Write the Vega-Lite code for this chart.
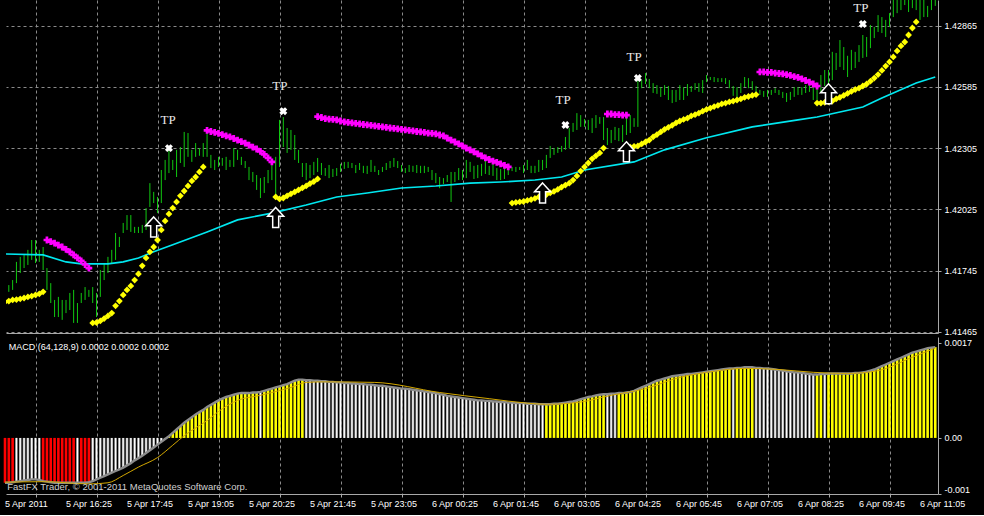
{
"$schema":"https://vega.github.io/schema/vega-lite/v6.json",
"background":"black",
"padding":{"left":0,"top":0,"right":14,"bottom":6},
"autosize":{"type":"pad"},
"config":{"view":{"stroke":null},"concat":{"spacing":0},
"axis":{"labelColor":"white","labelFont":"Liberation Sans","labelFontSize":9,"domainColor":"#a8a8a8","tickColor":"#a8a8a8","gridColor":"#8a8a8a","gridDash":[3,3],"gridOpacity":1,"title":null}},
"resolve":{"scale":{"x":"independent","y":"independent","color":"independent","shape":"independent"},"axis":{"x":"independent","y":"independent"}},
"datasets":{
"bars":[
{"i":0,"h":1.41685,"l":1.4165,"m":-0.0008,"k":"R"},
{"i":1,"h":1.41679,"l":1.41648,"m":-0.0008,"k":"R"},
{"i":2,"h":1.41702,"l":1.41657,"m":-0.00079,"k":"R"},
{"i":3,"h":1.41785,"l":1.41688,"m":-0.00078,"k":"W"},
{"i":4,"h":1.41808,"l":1.41734,"m":-0.00077,"k":"W"},
{"i":5,"h":1.41817,"l":1.41757,"m":-0.00076,"k":"W"},
{"i":6,"h":1.4184,"l":1.41771,"m":-0.00075,"k":"W"},
{"i":7,"h":1.41885,"l":1.41794,"m":-0.00074,"k":"W"},
{"i":8,"h":1.41885,"l":1.4178,"m":-0.00074,"k":"W"},
{"i":9,"h":1.4184,"l":1.41785,"m":-0.00075,"k":"W"},
{"i":10,"h":1.41853,"l":1.41748,"m":-0.00077,"k":"R"},
{"i":11,"h":1.41757,"l":1.41657,"m":-0.00078,"k":"R"},
{"i":12,"h":1.41688,"l":1.41597,"m":-0.00079,"k":"R"},
{"i":13,"h":1.41611,"l":1.41533,"m":-0.0008,"k":"R"},
{"i":14,"h":1.41625,"l":1.41533,"m":-0.0008,"k":"R"},
{"i":15,"h":1.41611,"l":1.4152,"m":-0.0008,"k":"R"},
{"i":16,"h":1.41611,"l":1.41551,"m":-0.0008,"k":"R"},
{"i":17,"h":1.41643,"l":1.41565,"m":-0.0008,"k":"R"},
{"i":18,"h":1.41657,"l":1.41506,"m":-0.0008,"k":"R"},
{"i":19,"h":1.41597,"l":1.41506,"m":-0.0008,"k":"W"},
{"i":20,"h":1.41643,"l":1.41597,"m":-0.0008,"k":"R"},
{"i":21,"h":1.4167,"l":1.41611,"m":-0.0008,"k":"R"},
{"i":22,"h":1.41657,"l":1.41625,"m":-0.00079,"k":"R"},
{"i":23,"h":1.4167,"l":1.41597,"m":-0.00077,"k":"W"},
{"i":24,"h":1.41643,"l":1.41533,"m":-0.00074,"k":"W"},
{"i":25,"h":1.41748,"l":1.41625,"m":-0.00071,"k":"W"},
{"i":26,"h":1.4178,"l":1.41702,"m":-0.00068,"k":"W"},
{"i":27,"h":1.41808,"l":1.41734,"m":-0.00065,"k":"W"},
{"i":28,"h":1.4184,"l":1.4178,"m":-0.00062,"k":"W"},
{"i":29,"h":1.41917,"l":1.41794,"m":-0.00059,"k":"W"},
{"i":30,"h":1.41899,"l":1.41853,"m":-0.00056,"k":"W"},
{"i":31,"h":1.41963,"l":1.41917,"m":-0.00053,"k":"W"},
{"i":32,"h":1.41999,"l":1.41931,"m":-0.00049,"k":"W"},
{"i":33,"h":1.41999,"l":1.41922,"m":-0.00045,"k":"W"},
{"i":34,"h":1.41945,"l":1.41917,"m":-0.0004,"k":"W"},
{"i":35,"h":1.41945,"l":1.41917,"m":-0.00036,"k":"W"},
{"i":36,"h":1.41954,"l":1.41917,"m":-0.00032,"k":"W"},
{"i":37,"h":1.42031,"l":1.41931,"m":-0.00027,"k":"W"},
{"i":38,"h":1.42145,"l":1.42036,"m":-0.00022,"k":"W"},
{"i":39,"h":1.42105,"l":1.42054,"m":-0.00017,"k":"W"},
{"i":40,"h":1.42082,"l":1.42008,"m":-0.00012,"k":"W"},
{"i":41,"h":1.42205,"l":1.42054,"m":-0.00007,"k":"W"},
{"i":42,"h":1.42251,"l":1.42159,"m":-0.00002,"k":"W"},
{"i":43,"h":1.4231,"l":1.42191,"m":0.00003,"k":"Y"},
{"i":44,"h":1.42251,"l":1.42205,"m":0.00009,"k":"Y"},
{"i":45,"h":1.42297,"l":1.42173,"m":0.00015,"k":"Y"},
{"i":46,"h":1.4231,"l":1.42237,"m":0.00021,"k":"Y"},
{"i":47,"h":1.42379,"l":1.42219,"m":0.00027,"k":"Y"},
{"i":48,"h":1.42374,"l":1.42265,"m":0.00032,"k":"Y"},
{"i":49,"h":1.42297,"l":1.42242,"m":0.00037,"k":"Y"},
{"i":50,"h":1.42328,"l":1.42265,"m":0.00042,"k":"Y"},
{"i":51,"h":1.42305,"l":1.4227,"m":0.00046,"k":"Y"},
{"i":52,"h":1.42328,"l":1.42265,"m":0.0005,"k":"Y"},
{"i":53,"h":1.42388,"l":1.42265,"m":0.00055,"k":"Y"},
{"i":54,"h":1.42274,"l":1.42214,"m":0.00059,"k":"Y"},
{"i":55,"h":1.42251,"l":1.42205,"m":0.00063,"k":"Y"},
{"i":56,"h":1.42265,"l":1.42219,"m":0.00067,"k":"Y"},
{"i":57,"h":1.4226,"l":1.42224,"m":0.0007,"k":"Y"},
{"i":58,"h":1.42265,"l":1.42205,"m":0.00073,"k":"Y"},
{"i":59,"h":1.42251,"l":1.42219,"m":0.00075,"k":"Y"},
{"i":60,"h":1.42305,"l":1.42219,"m":0.00077,"k":"Y"},
{"i":61,"h":1.42297,"l":1.42251,"m":0.00079,"k":"Y"},
{"i":62,"h":1.42265,"l":1.42228,"m":0.0008,"k":"Y"},
{"i":63,"h":1.42246,"l":1.42214,"m":0.0008,"k":"Y"},
{"i":64,"h":1.42219,"l":1.42159,"m":0.0008,"k":"Y"},
{"i":65,"h":1.42196,"l":1.4215,"m":0.00081,"k":"Y"},
{"i":66,"h":1.42182,"l":1.42114,"m":0.00081,"k":"Y"},
{"i":67,"h":1.42168,"l":1.42077,"m":0.00082,"k":"W"},
{"i":68,"h":1.42173,"l":1.421,"m":0.00084,"k":"Y"},
{"i":69,"h":1.42205,"l":1.42145,"m":0.00086,"k":"Y"},
{"i":70,"h":1.42228,"l":1.42159,"m":0.00088,"k":"Y"},
{"i":71,"h":1.42265,"l":1.42091,"m":0.0009,"k":"Y"},
{"i":72,"h":1.42434,"l":1.42219,"m":0.00092,"k":"Y"},
{"i":73,"h":1.42447,"l":1.4231,"m":0.00094,"k":"Y"},
{"i":74,"h":1.42397,"l":1.42283,"m":0.00096,"k":"Y"},
{"i":75,"h":1.42388,"l":1.42297,"m":0.00099,"k":"Y"},
{"i":76,"h":1.42365,"l":1.42251,"m":0.00102,"k":"Y"},
{"i":77,"h":1.42297,"l":1.42237,"m":0.00104,"k":"Y"},
{"i":78,"h":1.42237,"l":1.42173,"m":0.00104,"k":"Y"},
{"i":79,"h":1.42237,"l":1.42159,"m":0.00103,"k":"W"},
{"i":80,"h":1.42228,"l":1.42168,"m":0.00103,"k":"W"},
{"i":81,"h":1.42242,"l":1.42182,"m":0.00102,"k":"W"},
{"i":82,"h":1.4226,"l":1.42196,"m":0.00102,"k":"W"},
{"i":83,"h":1.42237,"l":1.42182,"m":0.00101,"k":"W"},
{"i":84,"h":1.42214,"l":1.42178,"m":0.00101,"k":"W"},
{"i":85,"h":1.42228,"l":1.42168,"m":0.001,"k":"W"},
{"i":86,"h":1.4221,"l":1.42173,"m":0.001,"k":"W"},
{"i":87,"h":1.42214,"l":1.42178,"m":0.00099,"k":"W"},
{"i":88,"h":1.42233,"l":1.42196,"m":0.00099,"k":"W"},
{"i":89,"h":1.42242,"l":1.4221,"m":0.00098,"k":"W"},
{"i":90,"h":1.42242,"l":1.42214,"m":0.00098,"k":"W"},
{"i":91,"h":1.42237,"l":1.42214,"m":0.00097,"k":"W"},
{"i":92,"h":1.42228,"l":1.42191,"m":0.00097,"k":"W"},
{"i":93,"h":1.42237,"l":1.42205,"m":0.00096,"k":"W"},
{"i":94,"h":1.42224,"l":1.42191,"m":0.00096,"k":"W"},
{"i":95,"h":1.42224,"l":1.42187,"m":0.00095,"k":"W"},
{"i":96,"h":1.42251,"l":1.42196,"m":0.00095,"k":"W"},
{"i":97,"h":1.42224,"l":1.42196,"m":0.00094,"k":"W"},
{"i":98,"h":1.42205,"l":1.42182,"m":0.00093,"k":"W"},
{"i":99,"h":1.42219,"l":1.42196,"m":0.00093,"k":"W"},
{"i":100,"h":1.42237,"l":1.42205,"m":0.00092,"k":"W"},
{"i":101,"h":1.42246,"l":1.42214,"m":0.00091,"k":"W"},
{"i":102,"h":1.4226,"l":1.42219,"m":0.0009,"k":"W"},
{"i":103,"h":1.42246,"l":1.42214,"m":0.00089,"k":"W"},
{"i":104,"h":1.42228,"l":1.42196,"m":0.00088,"k":"W"},
{"i":105,"h":1.42214,"l":1.42191,"m":0.00088,"k":"W"},
{"i":106,"h":1.42228,"l":1.42196,"m":0.00087,"k":"W"},
{"i":107,"h":1.42224,"l":1.42196,"m":0.00086,"k":"W"},
{"i":108,"h":1.42228,"l":1.42191,"m":0.00085,"k":"W"},
{"i":109,"h":1.42224,"l":1.42191,"m":0.00084,"k":"W"},
{"i":110,"h":1.42224,"l":1.42191,"m":0.00083,"k":"W"},
{"i":111,"h":1.42219,"l":1.42196,"m":0.00082,"k":"W"},
{"i":112,"h":1.42205,"l":1.42159,"m":0.00081,"k":"W"},
{"i":113,"h":1.42191,"l":1.42145,"m":0.0008,"k":"W"},
{"i":114,"h":1.42173,"l":1.42122,"m":0.00078,"k":"W"},
{"i":115,"h":1.42168,"l":1.42141,"m":0.00077,"k":"W"},
{"i":116,"h":1.42182,"l":1.4215,"m":0.00075,"k":"W"},
{"i":117,"h":1.42196,"l":1.42059,"m":0.00074,"k":"W"},
{"i":118,"h":1.42196,"l":1.4215,"m":0.00073,"k":"W"},
{"i":119,"h":1.42214,"l":1.42159,"m":0.00072,"k":"W"},
{"i":120,"h":1.42205,"l":1.42159,"m":0.00071,"k":"W"},
{"i":121,"h":1.42251,"l":1.42168,"m":0.0007,"k":"W"},
{"i":122,"h":1.42242,"l":1.42196,"m":0.00069,"k":"W"},
{"i":123,"h":1.42224,"l":1.42164,"m":0.00068,"k":"W"},
{"i":124,"h":1.42228,"l":1.42168,"m":0.00067,"k":"W"},
{"i":125,"h":1.42233,"l":1.42178,"m":0.00067,"k":"W"},
{"i":126,"h":1.42251,"l":1.42187,"m":0.00066,"k":"W"},
{"i":127,"h":1.42224,"l":1.42182,"m":0.00066,"k":"W"},
{"i":128,"h":1.42233,"l":1.42178,"m":0.00065,"k":"W"},
{"i":129,"h":1.42214,"l":1.42159,"m":0.00065,"k":"W"},
{"i":130,"h":1.4221,"l":1.42159,"m":0.00064,"k":"W"},
{"i":131,"h":1.42219,"l":1.42164,"m":0.00064,"k":"W"},
{"i":132,"h":1.42219,"l":1.42182,"m":0.00063,"k":"W"},
{"i":133,"h":1.42219,"l":1.422,"m":0.00063,"k":"W"},
{"i":134,"h":1.42219,"l":1.42196,"m":0.00062,"k":"W"},
{"i":135,"h":1.42219,"l":1.42205,"m":0.00062,"k":"W"},
{"i":136,"h":1.42228,"l":1.42191,"m":0.00062,"k":"W"},
{"i":137,"h":1.42251,"l":1.42205,"m":0.00061,"k":"W"},
{"i":138,"h":1.42224,"l":1.42191,"m":0.00061,"k":"W"},
{"i":139,"h":1.42224,"l":1.42191,"m":0.00061,"k":"W"},
{"i":140,"h":1.42251,"l":1.42196,"m":0.0006,"k":"W"},
{"i":141,"h":1.42251,"l":1.42205,"m":0.0006,"k":"W"},
{"i":142,"h":1.42274,"l":1.42214,"m":0.0006,"k":"Y"},
{"i":143,"h":1.42315,"l":1.4226,"m":0.0006,"k":"Y"},
{"i":144,"h":1.42305,"l":1.42274,"m":0.00061,"k":"Y"},
{"i":145,"h":1.4231,"l":1.42283,"m":0.00061,"k":"Y"},
{"i":146,"h":1.42315,"l":1.42288,"m":0.00062,"k":"Y"},
{"i":147,"h":1.42356,"l":1.42297,"m":0.00063,"k":"Y"},
{"i":148,"h":1.42397,"l":1.42305,"m":0.00064,"k":"Y"},
{"i":149,"h":1.4242,"l":1.42379,"m":0.00065,"k":"Y"},
{"i":150,"h":1.42465,"l":1.42388,"m":0.00067,"k":"Y"},
{"i":151,"h":1.42456,"l":1.42402,"m":0.00069,"k":"Y"},
{"i":152,"h":1.42438,"l":1.42402,"m":0.00071,"k":"Y"},
{"i":153,"h":1.42434,"l":1.42388,"m":0.00073,"k":"Y"},
{"i":154,"h":1.42442,"l":1.42374,"m":0.00074,"k":"Y"},
{"i":155,"h":1.42456,"l":1.42397,"m":0.00076,"k":"Y"},
{"i":156,"h":1.42447,"l":1.42416,"m":0.00077,"k":"Y"},
{"i":157,"h":1.42447,"l":1.42342,"m":0.00078,"k":"Y"},
{"i":158,"h":1.42397,"l":1.42319,"m":0.00078,"k":"W"},
{"i":159,"h":1.42388,"l":1.42328,"m":0.00079,"k":"W"},
{"i":160,"h":1.42402,"l":1.42342,"m":0.00079,"k":"W"},
{"i":161,"h":1.42397,"l":1.42337,"m":0.0008,"k":"Y"},
{"i":162,"h":1.42411,"l":1.42333,"m":0.0008,"k":"Y"},
{"i":163,"h":1.42465,"l":1.42365,"m":0.00081,"k":"Y"},
{"i":164,"h":1.42456,"l":1.42374,"m":0.00082,"k":"Y"},
{"i":165,"h":1.42442,"l":1.42402,"m":0.00084,"k":"Y"},
{"i":166,"h":1.42625,"l":1.42402,"m":0.00087,"k":"Y"},
{"i":167,"h":1.42616,"l":1.42579,"m":0.0009,"k":"Y"},
{"i":168,"h":1.42648,"l":1.42598,"m":0.00093,"k":"Y"},
{"i":169,"h":1.42621,"l":1.42579,"m":0.00096,"k":"Y"},
{"i":170,"h":1.42602,"l":1.42557,"m":0.00099,"k":"Y"},
{"i":171,"h":1.42593,"l":1.42553,"m":0.00102,"k":"Y"},
{"i":172,"h":1.42584,"l":1.42539,"m":0.00104,"k":"Y"},
{"i":173,"h":1.42593,"l":1.42548,"m":0.00106,"k":"Y"},
{"i":174,"h":1.42589,"l":1.42525,"m":0.00108,"k":"Y"},
{"i":175,"h":1.42571,"l":1.42511,"m":0.0011,"k":"Y"},
{"i":176,"h":1.42571,"l":1.42516,"m":0.00111,"k":"Y"},
{"i":177,"h":1.42593,"l":1.42525,"m":0.00112,"k":"Y"},
{"i":178,"h":1.42584,"l":1.42525,"m":0.00113,"k":"Y"},
{"i":179,"h":1.42598,"l":1.42544,"m":0.00114,"k":"Y"},
{"i":180,"h":1.42589,"l":1.42562,"m":0.00114,"k":"Y"},
{"i":181,"h":1.42602,"l":1.42571,"m":0.00115,"k":"Y"},
{"i":182,"h":1.42602,"l":1.42562,"m":0.00116,"k":"Y"},
{"i":183,"h":1.42616,"l":1.42557,"m":0.00117,"k":"Y"},
{"i":184,"h":1.42639,"l":1.42607,"m":0.00118,"k":"Y"},
{"i":185,"h":1.4263,"l":1.42616,"m":0.00119,"k":"Y"},
{"i":186,"h":1.4263,"l":1.42607,"m":0.0012,"k":"Y"},
{"i":187,"h":1.42625,"l":1.42607,"m":0.00121,"k":"Y"},
{"i":188,"h":1.42625,"l":1.42607,"m":0.00122,"k":"Y"},
{"i":189,"h":1.42625,"l":1.42598,"m":0.00123,"k":"Y"},
{"i":190,"h":1.42616,"l":1.42579,"m":0.00124,"k":"Y"},
{"i":191,"h":1.42589,"l":1.42544,"m":0.00124,"k":"W"},
{"i":192,"h":1.42584,"l":1.42539,"m":0.00125,"k":"Y"},
{"i":193,"h":1.42602,"l":1.42557,"m":0.00125,"k":"Y"},
{"i":194,"h":1.4263,"l":1.42584,"m":0.00126,"k":"Y"},
{"i":195,"h":1.42625,"l":1.42579,"m":0.00126,"k":"Y"},
{"i":196,"h":1.42611,"l":1.42571,"m":0.00126,"k":"Y"},
{"i":197,"h":1.42589,"l":1.42557,"m":0.00125,"k":"W"},
{"i":198,"h":1.42571,"l":1.42548,"m":0.00125,"k":"W"},
{"i":199,"h":1.42566,"l":1.42539,"m":0.00124,"k":"W"},
{"i":200,"h":1.42571,"l":1.42539,"m":0.00124,"k":"W"},
{"i":201,"h":1.42571,"l":1.42548,"m":0.00123,"k":"W"},
{"i":202,"h":1.42579,"l":1.42557,"m":0.00122,"k":"W"},
{"i":203,"h":1.42571,"l":1.42548,"m":0.00121,"k":"W"},
{"i":204,"h":1.42562,"l":1.42534,"m":0.0012,"k":"W"},
{"i":205,"h":1.42557,"l":1.42516,"m":0.00119,"k":"W"},
{"i":206,"h":1.42562,"l":1.42525,"m":0.00118,"k":"W"},
{"i":207,"h":1.42584,"l":1.42539,"m":0.00117,"k":"W"},
{"i":208,"h":1.42584,"l":1.42548,"m":0.00117,"k":"W"},
{"i":209,"h":1.42584,"l":1.42548,"m":0.00116,"k":"W"},
{"i":210,"h":1.42593,"l":1.42557,"m":0.00115,"k":"W"},
{"i":211,"h":1.42602,"l":1.42562,"m":0.00114,"k":"W"},
{"i":212,"h":1.42584,"l":1.42525,"m":0.00113,"k":"W"},
{"i":213,"h":1.42593,"l":1.42525,"m":0.00113,"k":"Y"},
{"i":214,"h":1.42639,"l":1.42557,"m":0.00114,"k":"Y"},
{"i":215,"h":1.42662,"l":1.42589,"m":0.00114,"k":"W"},
{"i":216,"h":1.42662,"l":1.42557,"m":0.00115,"k":"Y"},
{"i":217,"h":1.42745,"l":1.42616,"m":0.00115,"k":"Y"},
{"i":218,"h":1.4274,"l":1.42662,"m":0.00115,"k":"Y"},
{"i":219,"h":1.42799,"l":1.42676,"m":0.00115,"k":"Y"},
{"i":220,"h":1.42767,"l":1.42662,"m":0.00115,"k":"Y"},
{"i":221,"h":1.42727,"l":1.4263,"m":0.00115,"k":"Y"},
{"i":222,"h":1.42754,"l":1.42662,"m":0.00115,"k":"Y"},
{"i":223,"h":1.42745,"l":1.42671,"m":0.00116,"k":"Y"},
{"i":224,"h":1.42776,"l":1.42699,"m":0.00116,"k":"Y"},
{"i":225,"h":1.42822,"l":1.42717,"m":0.00117,"k":"Y"},
{"i":226,"h":1.42813,"l":1.42722,"m":0.00118,"k":"Y"},
{"i":227,"h":1.42868,"l":1.42762,"m":0.0012,"k":"Y"},
{"i":228,"h":1.42859,"l":1.42808,"m":0.00122,"k":"Y"},
{"i":229,"h":1.42913,"l":1.42836,"m":0.00125,"k":"Y"},
{"i":230,"h":1.42904,"l":1.42831,"m":0.00128,"k":"Y"},
{"i":231,"h":1.42891,"l":1.42813,"m":0.00131,"k":"Y"},
{"i":232,"h":1.42922,"l":1.42859,"m":0.00134,"k":"Y"},
{"i":233,"h":1.42991,"l":1.42904,"m":0.00137,"k":"Y"},
{"i":234,"h":1.42996,"l":1.42922,"m":0.0014,"k":"Y"},
{"i":235,"h":1.43,"l":1.42936,"m":0.00143,"k":"Y"},
{"i":236,"h":1.43005,"l":1.42959,"m":0.00146,"k":"Y"},
{"i":237,"h":1.42996,"l":1.42927,"m":0.00149,"k":"Y"},
{"i":238,"h":1.43,"l":1.42945,"m":0.00152,"k":"Y"},
{"i":239,"h":1.42996,"l":1.42936,"m":0.00154,"k":"Y"},
{"i":240,"h":1.42991,"l":1.42891,"m":0.00156,"k":"Y"},
{"i":241,"h":1.42991,"l":1.42904,"m":0.00158,"k":"Y"},
{"i":242,"h":1.42955,"l":1.42904,"m":0.0016,"k":"Y"},
{"i":243,"h":1.42991,"l":1.42936,"m":0.00161,"k":"Y"},
{"i":244,"h":1.42996,"l":1.42955,"m":0.00162,"k":"Y"}
],
"trail":[
{"i":0,"p":1.41602,"s":"B"},{"i":1,"p":1.41606,"s":"B"},{"i":2,"p":1.41611,"s":"B"},{"i":3,"p":1.41613,"s":"B"},{"i":4,"p":1.41616,"s":"B"},{"i":5,"p":1.4162,"s":"B"},{"i":6,"p":1.41625,"s":"B"},{"i":7,"p":1.41629,"s":"B"},{"i":8,"p":1.41634,"s":"B"},{"i":9,"p":1.41639,"s":"B"},{"i":10,"p":1.41648,"s":"B"},
{"i":23,"p":1.41506,"s":"B"},{"i":24,"p":1.41508,"s":"B"},{"i":25,"p":1.41515,"s":"B"},{"i":26,"p":1.41526,"s":"B"},{"i":27,"p":1.41538,"s":"B"},{"i":28,"p":1.41551,"s":"B"},{"i":29,"p":1.41584,"s":"B"},{"i":30,"p":1.41606,"s":"B"},{"i":31,"p":1.41634,"s":"B"},{"i":32,"p":1.41657,"s":"B"},{"i":33,"p":1.41675,"s":"B"},{"i":34,"p":1.41702,"s":"B"},{"i":35,"p":1.4173,"s":"B"},{"i":36,"p":1.41767,"s":"B"},{"i":37,"p":1.41803,"s":"B"},{"i":38,"p":1.41831,"s":"B"},{"i":39,"p":1.41853,"s":"B"},{"i":40,"p":1.41885,"s":"B"},{"i":41,"p":1.41931,"s":"B"},{"i":42,"p":1.41972,"s":"B"},{"i":43,"p":1.42004,"s":"B"},{"i":44,"p":1.42031,"s":"B"},{"i":45,"p":1.42059,"s":"B"},{"i":46,"p":1.42087,"s":"B"},{"i":47,"p":1.42109,"s":"B"},{"i":48,"p":1.42132,"s":"B"},{"i":49,"p":1.42155,"s":"B"},{"i":50,"p":1.42173,"s":"B"},{"i":51,"p":1.42196,"s":"B"},{"i":52,"p":1.42219,"s":"B"},
{"i":71,"p":1.42082,"s":"B"},{"i":72,"p":1.42073,"s":"B"},{"i":73,"p":1.42077,"s":"B"},{"i":74,"p":1.42087,"s":"B"},{"i":75,"p":1.42096,"s":"B"},{"i":76,"p":1.42105,"s":"B"},{"i":77,"p":1.42114,"s":"B"},{"i":78,"p":1.42123,"s":"B"},{"i":79,"p":1.42132,"s":"B"},{"i":80,"p":1.42143,"s":"B"},{"i":81,"p":1.42152,"s":"B"},{"i":82,"p":1.42164,"s":"B"},
{"i":133,"p":1.42054,"s":"B"},{"i":134,"p":1.42057,"s":"B"},{"i":135,"p":1.42059,"s":"B"},{"i":136,"p":1.42061,"s":"B"},{"i":137,"p":1.42066,"s":"B"},{"i":138,"p":1.4207,"s":"B"},{"i":139,"p":1.42075,"s":"B"},{"i":140,"p":1.42082,"s":"B"},{"i":141,"p":1.42087,"s":"B"},{"i":142,"p":1.42093,"s":"B"},{"i":143,"p":1.421,"s":"B"},{"i":144,"p":1.42107,"s":"B"},{"i":145,"p":1.42116,"s":"B"},{"i":146,"p":1.42127,"s":"B"},{"i":147,"p":1.42136,"s":"B"},{"i":148,"p":1.42145,"s":"B"},{"i":149,"p":1.42159,"s":"B"},{"i":150,"p":1.42178,"s":"B"},{"i":151,"p":1.422,"s":"B"},{"i":152,"p":1.42219,"s":"B"},{"i":153,"p":1.42237,"s":"B"},{"i":154,"p":1.42256,"s":"B"},{"i":155,"p":1.4227,"s":"B"},{"i":156,"p":1.42283,"s":"B"},{"i":157,"p":1.42305,"s":"B"},
{"i":163,"p":1.4231,"s":"B"},{"i":164,"p":1.4231,"s":"B"},{"i":165,"p":1.42313,"s":"B"},{"i":166,"p":1.42315,"s":"B"},{"i":167,"p":1.42324,"s":"B"},{"i":168,"p":1.42333,"s":"B"},{"i":169,"p":1.42342,"s":"B"},{"i":170,"p":1.42356,"s":"B"},{"i":171,"p":1.42367,"s":"B"},{"i":172,"p":1.42379,"s":"B"},{"i":173,"p":1.42391,"s":"B"},{"i":174,"p":1.424,"s":"B"},{"i":175,"p":1.42409,"s":"B"},{"i":176,"p":1.4242,"s":"B"},{"i":177,"p":1.42429,"s":"B"},{"i":178,"p":1.42436,"s":"B"},{"i":179,"p":1.42442,"s":"B"},{"i":180,"p":1.42452,"s":"B"},{"i":181,"p":1.42458,"s":"B"},{"i":182,"p":1.42465,"s":"B"},{"i":183,"p":1.42474,"s":"B"},{"i":184,"p":1.42482,"s":"B"},{"i":185,"p":1.42488,"s":"B"},{"i":186,"p":1.42495,"s":"B"},{"i":187,"p":1.425,"s":"B"},{"i":188,"p":1.42507,"s":"B"},{"i":189,"p":1.42511,"s":"B"},{"i":190,"p":1.42516,"s":"B"},{"i":191,"p":1.4252,"s":"B"},{"i":192,"p":1.42525,"s":"B"},{"i":193,"p":1.4253,"s":"B"},{"i":194,"p":1.42537,"s":"B"},{"i":195,"p":1.42541,"s":"B"},{"i":196,"p":1.42546,"s":"B"},{"i":197,"p":1.4255,"s":"B"},
{"i":213,"p":1.42511,"s":"B"},{"i":214,"p":1.42511,"s":"B"},{"i":215,"p":1.42514,"s":"B"},{"i":216,"p":1.42516,"s":"B"},{"i":217,"p":1.4252,"s":"B"},{"i":218,"p":1.4253,"s":"B"},{"i":219,"p":1.42537,"s":"B"},{"i":220,"p":1.42546,"s":"B"},{"i":221,"p":1.42555,"s":"B"},{"i":222,"p":1.42564,"s":"B"},{"i":223,"p":1.42573,"s":"B"},{"i":224,"p":1.42579,"s":"B"},{"i":225,"p":1.42589,"s":"B"},{"i":226,"p":1.42598,"s":"B"},{"i":227,"p":1.42611,"s":"B"},{"i":228,"p":1.42625,"s":"B"},{"i":229,"p":1.42641,"s":"B"},{"i":230,"p":1.4266,"s":"B"},{"i":231,"p":1.4268,"s":"B"},{"i":232,"p":1.42699,"s":"B"},{"i":233,"p":1.42722,"s":"B"},{"i":234,"p":1.42749,"s":"B"},{"i":235,"p":1.42772,"s":"B"},{"i":236,"p":1.4279,"s":"B"},{"i":237,"p":1.42822,"s":"B"},{"i":238,"p":1.42854,"s":"B"},{"i":239,"p":1.42882,"s":"B"},
{"i":11,"p":1.41885,"s":"S"},{"i":12,"p":1.41878,"s":"S"},{"i":13,"p":1.41871,"s":"S"},{"i":14,"p":1.41862,"s":"S"},{"i":15,"p":1.41853,"s":"S"},{"i":16,"p":1.41842,"s":"S"},{"i":17,"p":1.41831,"s":"S"},{"i":18,"p":1.41817,"s":"S"},{"i":19,"p":1.41803,"s":"S"},{"i":20,"p":1.4179,"s":"S"},{"i":21,"p":1.41773,"s":"S"},{"i":22,"p":1.41757,"s":"S"},
{"i":53,"p":1.42386,"s":"S"},{"i":54,"p":1.42381,"s":"S"},{"i":55,"p":1.42377,"s":"S"},{"i":56,"p":1.42372,"s":"S"},{"i":57,"p":1.42367,"s":"S"},{"i":58,"p":1.42361,"s":"S"},{"i":59,"p":1.42356,"s":"S"},{"i":60,"p":1.42349,"s":"S"},{"i":61,"p":1.42342,"s":"S"},{"i":62,"p":1.42335,"s":"S"},{"i":63,"p":1.42328,"s":"S"},{"i":64,"p":1.42319,"s":"S"},{"i":65,"p":1.4231,"s":"S"},{"i":66,"p":1.42301,"s":"S"},{"i":67,"p":1.4229,"s":"S"},{"i":68,"p":1.42276,"s":"S"},{"i":69,"p":1.4226,"s":"S"},{"i":70,"p":1.42242,"s":"S"},
{"i":82,"p":1.42449,"s":"S"},{"i":83,"p":1.42445,"s":"S"},{"i":84,"p":1.4244,"s":"S"},{"i":85,"p":1.42438,"s":"S"},{"i":86,"p":1.42436,"s":"S"},{"i":87,"p":1.42434,"s":"S"},{"i":88,"p":1.42429,"s":"S"},{"i":89,"p":1.42425,"s":"S"},{"i":90,"p":1.42423,"s":"S"},{"i":91,"p":1.4242,"s":"S"},{"i":92,"p":1.42418,"s":"S"},{"i":93,"p":1.42416,"s":"S"},{"i":94,"p":1.42413,"s":"S"},{"i":95,"p":1.42411,"s":"S"},{"i":96,"p":1.42409,"s":"S"},{"i":97,"p":1.42407,"s":"S"},{"i":98,"p":1.42404,"s":"S"},{"i":99,"p":1.42402,"s":"S"},{"i":100,"p":1.424,"s":"S"},{"i":101,"p":1.42397,"s":"S"},{"i":102,"p":1.42395,"s":"S"},{"i":103,"p":1.42393,"s":"S"},{"i":104,"p":1.42391,"s":"S"},{"i":105,"p":1.42388,"s":"S"},{"i":106,"p":1.42386,"s":"S"},{"i":107,"p":1.42384,"s":"S"},{"i":108,"p":1.42381,"s":"S"},{"i":109,"p":1.42379,"s":"S"},{"i":110,"p":1.42377,"s":"S"},{"i":111,"p":1.42374,"s":"S"},{"i":112,"p":1.42372,"s":"S"},{"i":113,"p":1.4237,"s":"S"},{"i":114,"p":1.42365,"s":"S"},{"i":115,"p":1.42361,"s":"S"},{"i":116,"p":1.42351,"s":"S"},{"i":117,"p":1.42342,"s":"S"},{"i":118,"p":1.42333,"s":"S"},{"i":119,"p":1.42324,"s":"S"},{"i":120,"p":1.42315,"s":"S"},{"i":121,"p":1.42305,"s":"S"},{"i":122,"p":1.42297,"s":"S"},{"i":123,"p":1.42288,"s":"S"},{"i":124,"p":1.42279,"s":"S"},{"i":125,"p":1.4227,"s":"S"},{"i":126,"p":1.4226,"s":"S"},{"i":127,"p":1.42253,"s":"S"},{"i":128,"p":1.42246,"s":"S"},{"i":129,"p":1.4224,"s":"S"},{"i":130,"p":1.42233,"s":"S"},{"i":131,"p":1.42226,"s":"S"},{"i":132,"p":1.42219,"s":"S"},
{"i":158,"p":1.42461,"s":"S"},{"i":159,"p":1.42461,"s":"S"},{"i":160,"p":1.42458,"s":"S"},{"i":161,"p":1.42458,"s":"S"},{"i":162,"p":1.42456,"s":"S"},{"i":163,"p":1.42456,"s":"S"},
{"i":198,"p":1.42653,"s":"S"},{"i":199,"p":1.42653,"s":"S"},{"i":200,"p":1.42651,"s":"S"},{"i":201,"p":1.42651,"s":"S"},{"i":202,"p":1.42648,"s":"S"},{"i":203,"p":1.42646,"s":"S"},{"i":204,"p":1.42644,"s":"S"},{"i":205,"p":1.42641,"s":"S"},{"i":206,"p":1.42637,"s":"S"},{"i":207,"p":1.42632,"s":"S"},{"i":208,"p":1.42628,"s":"S"},{"i":209,"p":1.42621,"s":"S"},{"i":210,"p":1.42614,"s":"S"},{"i":211,"p":1.42607,"s":"S"},{"i":212,"p":1.42598,"s":"S"},{"i":213,"p":1.42589,"s":"S"}
],
"ma":[
{"i":0,"p":1.41821},{"i":10,"p":1.41817},{"i":16,"p":1.41785},{"i":20,"p":1.41776},{"i":27,"p":1.41776},{"i":31,"p":1.41785},{"i":35,"p":1.41803},{"i":39,"p":1.41831},{"i":44,"p":1.41863},{"i":53,"p":1.41922},{"i":61,"p":1.41977},{"i":70,"p":1.42008},{"i":79,"p":1.42045},{"i":87,"p":1.42082},{"i":95,"p":1.421},{"i":104,"p":1.42123},{"i":113,"p":1.42132},{"i":122,"p":1.42145},{"i":130,"p":1.4215},{"i":139,"p":1.42159},{"i":146,"p":1.42173},{"i":152,"p":1.42205},{"i":165,"p":1.42242},{"i":173,"p":1.42297},{"i":184,"p":1.42352},{"i":196,"p":1.42402},{"i":208,"p":1.42434},{"i":213,"p":1.42447},{"i":225,"p":1.42493},{"i":230,"p":1.42534},{"i":239,"p":1.42603},{"i":244,"p":1.4263}
],
"arrows":[{"i":39,"p":1.41945},{"i":71,"p":1.41988},{"i":141,"p":1.421},{"i":163,"p":1.42288},{"i":216,"p":1.42553}],
"tpx":[{"i":43,"p":1.42305},{"i":73,"p":1.42474},{"i":147,"p":1.42411},{"i":166,"p":1.42625},{"i":225,"p":1.42872}],
"tpl":[{"i":42.8,"p":1.42434,"t":"TP"},{"i":72.1,"p":1.42589,"t":"TP"},{"i":146.4,"p":1.42525,"t":"TP"},{"i":165,"p":1.42722,"t":"TP"},{"i":224.5,"p":1.42945,"t":"TP"}],
"signal":[
{"i":0,"m":-0.00079},{"i":10,"m":-0.00078},{"i":22,"m":-0.00082},{"i":27,"m":-0.0008},{"i":31,"m":-0.00067},{"i":35,"m":-0.00052},{"i":40,"m":-0.00035},{"i":44,"m":-0.00013},{"i":47,"m":0.00004},{"i":53,"m":0.00031},{"i":57,"m":0.00052},{"i":61,"m":0.00067},{"i":67,"m":0.00076},{"i":70,"m":0.00081},{"i":75,"m":0.0009},{"i":79,"m":0.00099},{"i":84,"m":0.001},{"i":97,"m":0.00099},{"i":114,"m":0.00081},{"i":127,"m":0.0007},{"i":137,"m":0.00062},{"i":142,"m":0.0006},{"i":151,"m":0.00064},{"i":159,"m":0.00076},{"i":168,"m":0.00088},{"i":177,"m":0.00108},{"i":186,"m":0.00119},{"i":194,"m":0.00124},{"i":203,"m":0.00122},{"i":212,"m":0.00117},{"i":221,"m":0.00115},{"i":229,"m":0.0012},{"i":238,"m":0.00144},{"i":244,"m":0.0016}
],
"notes":[{"i":1,"m":0.00162,"t":"MACD (64,128,9) 0.0002 0.0002 0.0002","c":"a"},{"i":0.6,"m":-0.00087,"t":"FastFX Trader, © 2001-2011 MetaQuotes Software Corp.","c":"b"}],
"xlab":[{"i":0,"m":-0.001,"t":"5 Apr 2011"},{"i":16,"m":-0.001,"t":"5 Apr 16:25"},{"i":32,"m":-0.001,"t":"5 Apr 17:45"},{"i":48,"m":-0.001,"t":"5 Apr 19:05"},{"i":64,"m":-0.001,"t":"5 Apr 20:25"},{"i":80,"m":-0.001,"t":"5 Apr 21:45"},{"i":96,"m":-0.001,"t":"5 Apr 23:05"},{"i":112,"m":-0.001,"t":"6 Apr 00:25"},{"i":128,"m":-0.001,"t":"6 Apr 01:45"},{"i":144,"m":-0.001,"t":"6 Apr 03:05"},{"i":160,"m":-0.001,"t":"6 Apr 04:25"},{"i":176,"m":-0.001,"t":"6 Apr 05:45"},{"i":192,"m":-0.001,"t":"6 Apr 07:05"},{"i":208,"m":-0.001,"t":"6 Apr 08:25"},{"i":224,"m":-0.001,"t":"6 Apr 09:45"},{"i":240,"m":-0.001,"t":"6 Apr 11:05"}]
},
"vconcat":[
{"width":932,"height":333,
"resolve":{"scale":{"color":"independent","shape":"independent"}},
"layer":[
{"data":{"name":"bars"},"mark":{"type":"rule","color":"#10c810","strokeWidth":1,"clip":true},
"encoding":{
"x":{"field":"i","type":"quantitative","scale":{"domain":[0.2623,244.72],"nice":false,"zero":false},
"axis":{"orient":"bottom","values":[0,8,16,24,32,40,48,56,64,72,80,88,96,104,112,120,128,136,144,152,160,168,176,184,192,200,208,216,224,232,240],"labels":false,"ticks":false,"grid":true,"domain":true}},
"y":{"field":"l","type":"quantitative","scale":{"domain":[1.4146,1.42982],"nice":false,"zero":false},
"axis":{"orient":"right","values":[1.41465,1.41605,1.41745,1.41885,1.42025,1.42165,1.42305,1.42445,1.42585,1.42725,1.42865],"format":".5f","grid":true,"tickSize":3,"labelPadding":3}},
"y2":{"field":"h"}}},
{"data":{"name":"ma"},"mark":{"type":"line","color":"#00e8f0","strokeWidth":1.6,"clip":true},
"encoding":{"x":{"field":"i","type":"quantitative"},"y":{"field":"p","type":"quantitative"}}},
{"data":{"name":"trail"},"mark":{"type":"point","filled":true,"size":46,"opacity":1,"clip":true},
"encoding":{"x":{"field":"i","type":"quantitative"},"y":{"field":"p","type":"quantitative"},
"color":{"field":"s","type":"nominal","scale":{"domain":["B","S"],"range":["#ffff00","#ff00ff"]},"legend":null},
"shape":{"field":"s","type":"nominal","scale":{"domain":["B","S"],"range":["diamond","cross"]},"legend":null}}},
{"data":{"name":"arrows"},"mark":{"type":"point","shape":"M0,-1L0.8,-0.12L0.3,-0.12L0.3,1L-0.3,1L-0.3,-0.12L-0.8,-0.12Z","size":400,"filled":false,"fill":"black","fillOpacity":1,"stroke":"white","strokeWidth":1.5,"opacity":1},
"encoding":{"x":{"field":"i","type":"quantitative"},"y":{"field":"p","type":"quantitative"}}},
{"data":{"name":"tpx"},"mark":{"type":"point","shape":"cross","angle":45,"size":65,"filled":true,"color":"white","opacity":1},
"encoding":{"x":{"field":"i","type":"quantitative"},"y":{"field":"p","type":"quantitative"}}},
{"data":{"name":"tpl"},"mark":{"type":"text","font":"Liberation Serif","fontSize":13,"color":"#e8e8e8","align":"center","baseline":"middle"},
"encoding":{"x":{"field":"i","type":"quantitative"},"y":{"field":"p","type":"quantitative"},"text":{"field":"t"}}}
]},
{"width":932,"height":157,
"layer":[
{"data":{"name":"bars"},"mark":{"type":"rule","strokeWidth":2.6},
"encoding":{
"x":{"field":"i","type":"quantitative","scale":{"domain":[0.2623,244.72],"nice":false,"zero":false},
"axis":{"orient":"bottom","values":[0,8,16,24,32,40,48,56,64,72,80,88,96,104,112,120,128,136,144,152,160,168,176,184,192,200,208,216,224,232,240],"labels":false,"tickSize":3,"grid":true}},
"y":{"field":"m","type":"quantitative","scale":{"domain":[-0.001,0.0018],"nice":false,"zero":false},
"axis":{"orient":"right","values":[-0.001,0,0.0017],"labelExpr":"datum.value == 0 ? '0.00' : (datum.value > 0 ? '0.0017' : '-0.001')","labelFlush":true,"grid":false,"tickSize":3,"labelPadding":3}},
"y2":{"datum":0},
"color":{"field":"k","type":"nominal","scale":{"domain":["R","W","Y"],"range":["#ff0000","#9a9a9a","#ffff00"]},"legend":null}}},
{"data":{"name":"bars"},"transform":[{"filter":"datum.k == 'W'"}],"mark":{"type":"rule","strokeWidth":1.2,"color":"white"},
"encoding":{"x":{"field":"i","type":"quantitative"},"y":{"field":"m","type":"quantitative"},"y2":{"datum":0}}},
{"data":{"name":"bars"},"mark":{"type":"line","color":"#8c8c8c","strokeWidth":2.4},
"encoding":{"x":{"field":"i","type":"quantitative"},"y":{"field":"m","type":"quantitative"}}},
{"data":{"name":"signal"},"mark":{"type":"line","color":"#d4a800","strokeWidth":1,"interpolate":"monotone"},
"encoding":{"x":{"field":"i","type":"quantitative"},"y":{"field":"m","type":"quantitative"}}},
{"mark":{"type":"rule","color":"#a8a8a8","strokeWidth":1},"encoding":{"y":{"datum":0.0018}}},
{"data":{"name":"notes"},"transform":[{"filter":"datum.c == 'a'"}],"mark":{"type":"text","font":"Liberation Sans","fontSize":9,"align":"left","baseline":"middle","color":"#ffffff"},
"encoding":{"x":{"field":"i","type":"quantitative"},"y":{"field":"m","type":"quantitative"},"text":{"field":"t"}}},
{"data":{"name":"notes"},"transform":[{"filter":"datum.c == 'b'"}],"mark":{"type":"text","font":"Liberation Sans","fontSize":9.5,"align":"left","baseline":"middle","color":"#d0d0d0"},
"encoding":{"x":{"field":"i","type":"quantitative"},"y":{"field":"m","type":"quantitative"},"text":{"field":"t"}}},
{"data":{"name":"xlab"},"mark":{"type":"text","font":"Liberation Sans","fontSize":9,"align":"left","baseline":"middle","dy":10,"color":"#ffffff"},
"encoding":{"x":{"field":"i","type":"quantitative"},"y":{"field":"m","type":"quantitative"},"text":{"field":"t"}}}
]}
]
}
